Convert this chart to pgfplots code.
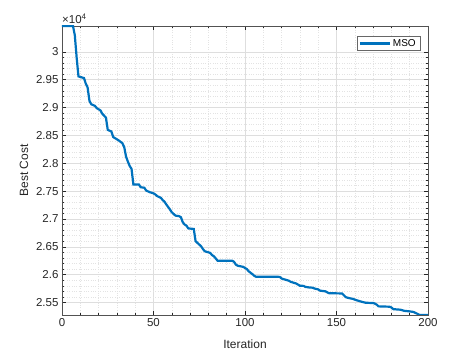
\documentclass[border=0pt]{standalone}
\usepackage{pgfplots}
\pgfplotsset{compat=1.18}
\usepackage{fontspec}
\setmainfont{Liberation Sans}
\definecolor{mblue}{rgb}{0,0.447,0.741}
\definecolor{axgray}{rgb}{0.15,0.15,0.15}
\begin{document}
\begin{tikzpicture}
\useasboundingbox (0,0) rectangle (474bp,355bp);
\begin{axis}[
  name=ax,
  at={(62bp,40bp)}, anchor=south west,
  scale only axis, width=366bp, height=289bp,
  xmin=0, xmax=200, ymin=2.5275, ymax=3.0465,
  xtick={0,50,...,200},
  ytick={2.55,2.6,2.65,2.7,2.75,2.8,2.85,2.9,2.95,3},
  minor x tick num=4, minor y tick num=4,
  tick align=inside,
  grid=both,
  major grid style={color=black!13, line width=0.5bp},
  minor grid style={color=black!11, dotted, line width=0.5bp},
  axis line style={color=axgray!80, line width=0.6bp},
  tick style={color=axgray, line width=0.5bp},
  major tick length=4bp, minor tick length=2bp,
  ticklabel style={font=\fontsize{11.5bp}{13bp}\selectfont, color=axgray},
  /pgf/number format/assume math mode=true,
  yticklabel style={/pgf/number format/fixed, /pgf/number format/precision=2},
  scaled y ticks=false,
  xlabel={Iteration}, ylabel={Best Cost},
  label style={font=\fontsize{12bp}{14bp}\selectfont, color=axgray},
  xlabel style={at={(rel axis cs:0.5,-0.1003)}, anchor=center},
  ylabel style={at={(rel axis cs:-0.1038,0.5)}, anchor=center},
  legend style={at={(rel axis cs:1,1)}, anchor=north east, xshift=-8bp, yshift=-10bp,
    font=\fontsize{10bp}{12bp}\selectfont, draw=axgray!70, line width=0.5bp,
    inner xsep=2bp, inner ysep=1bp},
  legend image code/.code={\draw[#1] (0bp,0bp) -- (30bp,0bp);},
]
\addplot[mblue, line width=2.2bp] table {
x y
0 3.0465
6 3.0465
7 3.03
8 2.99
9 2.956
12 2.953
13 2.943
14 2.936
15 2.912
16 2.906
18 2.903
19 2.899
21 2.895
22 2.889
24 2.882
25 2.860
27 2.857
28 2.847
30 2.843
31 2.841
33 2.836
34 2.829
35 2.812
36 2.803
37 2.795
38 2.790
39 2.762
42 2.762
43 2.757
45 2.756
46 2.751
48 2.748
50 2.746
51 2.744
52 2.741
54 2.738
55 2.734
56 2.731
57 2.726
59 2.717
60 2.712
61 2.709
62 2.706
64 2.705
65 2.703
66 2.694
67 2.690
68 2.688
69 2.683
72 2.682
73 2.660
74 2.657
75 2.654
76 2.651
77 2.646
78 2.642
80 2.640
81 2.639
82 2.635
83 2.633
85 2.625
93 2.625
94 2.623
95 2.618
96 2.616
99 2.614
100 2.612
101 2.610
102 2.606
104 2.601
105 2.598
106 2.5962
119 2.596
120 2.593
122 2.591
124 2.589
125 2.587
128 2.584
129 2.582
130 2.580
132 2.5798
133 2.578
135 2.577
137 2.5765
138 2.575
140 2.5735
141 2.5712
144 2.570
145 2.568
146 2.5666
153 2.5662
154 2.563
155 2.5597
156 2.5586
158 2.557
159 2.5565
160 2.555
162 2.553
164 2.551
166 2.5495
170 2.549
171 2.548
172 2.546
173 2.543
179 2.5424
180 2.541
181 2.538
183 2.5375
185 2.537
187 2.535
190 2.534
192 2.533
194 2.530
195 2.528
196 2.5275
200 2.5275
};
\addlegendentry{MSO}
\end{axis}
\node[anchor=south west, inner sep=0pt, yshift=2bp, font=\fontsize{11.5bp}{13bp}\selectfont, color=axgray] at (ax.north west) {×10\textsuperscript{4}};
\end{tikzpicture}
\end{document}
